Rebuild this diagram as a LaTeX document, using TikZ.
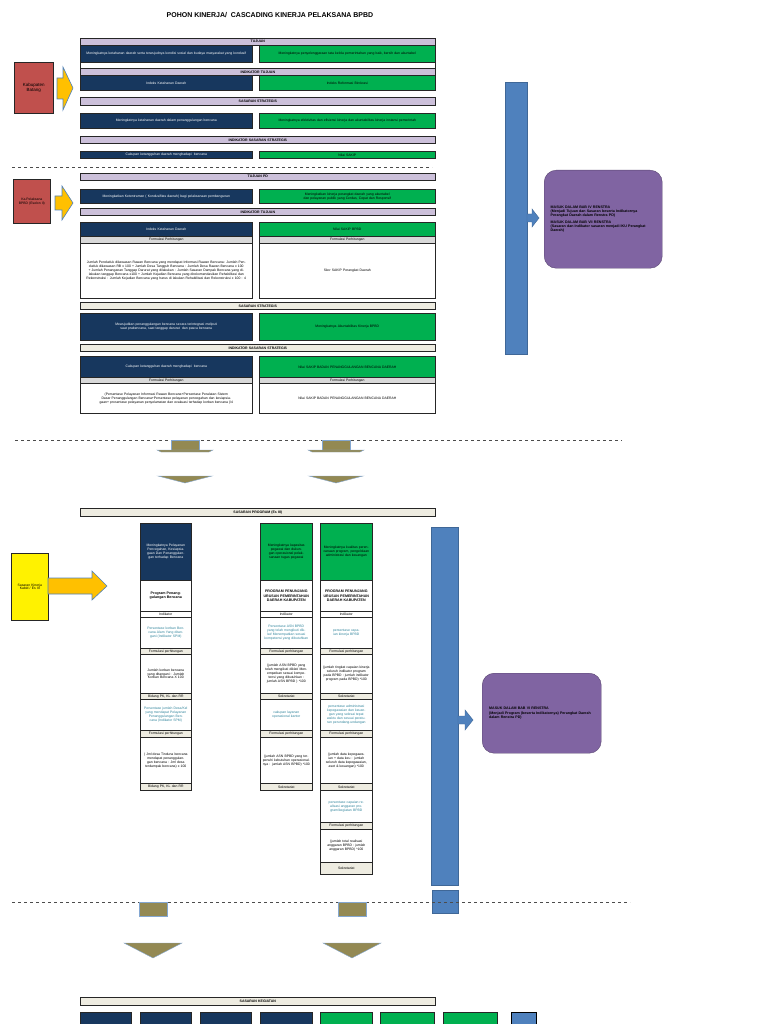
\documentclass[tikz,border=0pt]{standalone}
\usepackage{fontspec}
\setmainfont{Liberation Sans}
\usetikzlibrary{shapes.arrows}
\definecolor{cblue}{HTML}{17375E}
\definecolor{cgreen}{HTML}{00B050}
\definecolor{clav}{HTML}{CCC0DA}
\definecolor{ccream}{HTML}{EEECE1}
\definecolor{cgray}{HTML}{D9D9D9}
\definecolor{cred}{HTML}{C0504D}
\definecolor{cyel}{HTML}{FFC000}
\definecolor{colive}{HTML}{938953}
\definecolor{csteel}{HTML}{4F81BD}
\definecolor{cpurp}{HTML}{8064A2}
\definecolor{ccyan}{HTML}{31859C}
\newcommand\R[7]{\node[#1,anchor=north west,minimum width={(#5-#3)*1pt},minimum height={(#6-#4)*1pt},text width={(#5-#3-4)*1pt},align=center,inner sep=1pt] (#2) at (#3,#4) {#7};}
\begin{document}
\begin{tikzpicture}[x=1pt,y=-1pt,
  every node/.style={font=\fontsize{3.4}{3.9}\selectfont},
  base/.style={draw=black!85,line width=0.6pt},
  hdr/.style={base,fill=clav,font=\fontsize{3.5}{3.8}\selectfont\bfseries},
  hdrc/.style={base,fill=ccream,font=\fontsize{3.5}{3.8}\selectfont\bfseries},
  blu/.style={base,fill=cblue,text=white},
  grn/.style={base,fill=cgreen,text=black},
  wht/.style={base,fill=white},
  gry/.style={base,fill=cgray},
  crm/.style={base,fill=ccream},
  cyn/.style={base,fill=white,text=ccyan},
  lbl/.style={base,font=\fontsize{4.5}{5}\selectfont},
  ttl/.style={base,fill=white,font=\fontsize{3.6}{4.1}\selectfont\bfseries},
  dashline/.style={dashed,draw=black!70,line width=0.5pt},
  yarrow/.style={fill=cyel,draw=csteel,line width=0.6pt},
  oliv/.style={fill=colive,draw=csteel!70,line width=0.4pt},
  purp/.style={fill=cpurp,draw=cpurp!70!black,rounded corners=12pt,text=black,align=left,font=\fontsize{3.6}{4.1}\selectfont\bfseries}]
\useasboundingbox (0,0) rectangle (768,1024);
\node[font=\fontsize{7}{8}\selectfont\bfseries] (title) at (270,15) {POHON KINERJA/\ \ CASCADING KINERJA PELAKSANA BPBD};
% Section 1
\draw[base] (80,38) rectangle (435,68);
\R{hdr}{h1}{80}{38}{435}{45}{TUJUAN}
\R{blu}{t1}{80}{45}{252}{62}{Meningkatnya ketahanan daerah serta terwujudnya kondisi sosial dan budaya masyarakat yang kondusif}
\R{grn}{t2}{259}{45}{435}{62}{Meningkatnya penyelenggaraan tata kelola pemerintahan yang baik, bersih dan akuntabel}
\R{hdr}{h2}{80}{68}{435}{75}{INDIKATOR TUJUAN}
\R{blu}{it1}{80}{75}{252}{90}{Indeks Ketahanan Daerah}
\R{grn}{it2}{259}{75}{435}{90}{Indeks Reformasi Birokrasi}
\R{hdr}{h3}{80}{97}{435}{105}{SASARAN STRATEGIS}
\R{blu}{s1}{80}{113}{252}{128}{Meningkatnya ketahanan daerah dalam penanggulangan bencana}
\R{grn}{s2}{259}{113}{435}{128}{Meningkatnya efektivitas dan efisiensi kinerja dan akuntabilitas kinerja instansi pemerintah}
\R{hdr}{h4}{80}{136}{435}{143}{INDIKATOR SASARAN STRATEGIS}
\R{blu}{is1}{80}{151}{252}{158}{Cakupan ketangguhan daerah menghadapi\ \ bencana}
\R{grn}{is2}{259}{151}{435}{158}{Nilai SAKIP}
\R{lbl,fill=cred}{kab}{14}{62}{53}{113}{Kabupaten Batang}
\draw[yarrow] (57,78) -- (63,78) -- (63,67) -- (73,88) -- (63,110) -- (63,99) -- (57,99) -- cycle;
\draw[dashline] (12,167) -- (432,167);
% Section 2
\R{hdr}{h5}{80}{173}{435}{180}{TUJUAN PD}
\R{blu}{tp1}{80}{189}{252}{203}{Meningkatkan Ketentraman ( Kondusifitas daerah) bagi pelaksanaan pembangunan}
\R{grn}{tp2}{259}{189}{435}{203}{Meningkatkan kinerja perangkat daerah yang akuntabel dan pelayanan publik yang Cerdas, Cepat dan Responsif}
\R{hdr}{h6}{80}{208}{435}{215}{INDIKATOR TUJUAN}
\R{blu}{itp1}{80}{222}{252}{236}{Indeks Ketahanan Daerah}
\R{grn}{itp2}{259}{222}{435}{236}{Nilai SAKIP BPBD}
\R{gry}{f1}{80}{236}{252}{243}{Formulasi Perhitungan}
\R{gry}{f2}{259}{236}{435}{243}{Formulasi Perhitungan}
\R{wht}{fw1}{80}{243}{252}{298}{Jumlah Penduduk dikawasan Rawan Bencana yang mendapat Informasi Rawan Bencana: Jumlah Penduduk dikawasan RB x 100 + Jumlah Desa Tangguh Bencana : Jumlah Desa Rawan Bencana x 100 + Jumlah Penanganan Tanggap Darurat yang dilakukan : Jumlah Sasaran Dampak Bencana yang dilakukan tanggap Bencana x100 + Jumlah Kejadian Bencana yang direkomendasikan Rehabilitasi dan Rekonstruksi : Jumlah Kejadian Bencana yang harus di lakukan Rehabilitasi dan Rekonstruksi x 100 : 4}
\R{wht}{fw2}{259}{243}{435}{298}{Skor SAKIP Perangkat Daerah}
\R{hdrc}{h7}{80}{302}{435}{309}{SASARAN STRATEGIS}
\R{blu}{sp1}{80}{313}{252}{340}{Mewujudkan penanggulangan bencana secara terintegrasi meliputi saat prabencana, saat tanggap darurat\ \ dan pasca bencana}
\R{grn}{sp2}{259}{313}{435}{340}{Meningkatnya Akuntabilitas Kinerja BPBD}
\R{hdrc}{h8}{80}{344}{435}{351}{INDIKATOR SASARAN STRATEGIS}
\R{blu}{isp1}{80}{356}{252}{377}{Cakupan ketangguhan daerah menghadapi\ \ bencana}
\R{grn}{isp2}{259}{356}{435}{377}{Nilai SAKIP BADAN PENANGGULANGAN BENCANA DAERAH}
\R{gry}{f3}{80}{377}{252}{383}{Formulasi Perhitungan}
\R{gry}{f4}{259}{377}{435}{383}{Formulasi Perhitungan}
\R{wht}{fw3}{80}{383}{252}{413}{(Persentase Pelayanan Informasi Rawan Bencana+Persentase Peralatan Sistem Dasar Penanggulangan Bencana+Persentase pelayanan pencegahan dan kesiapsiagaan+ prosentase pelayanan penyelamatan dan evakuasi terhadap korban bencana )/4}
\R{wht}{fw4}{259}{383}{435}{413}{Nilai SAKIP BADAN PENANGGULANGAN BENCANA DAERAH}
\R{base,fill=cred}{kapel}{13}{179}{50}{223}{Ka.Pelaksana BPBD (Eselon II)}
\draw[yarrow] (55,196) -- (62,196) -- (62,186) -- (73,203) -- (62,220) -- (62,210) -- (55,210) -- cycle;
\draw[fill=csteel,draw=csteel!80!black] (505,82) rectangle (527,354);
\draw[fill=csteel,draw=csteel!80!black] (527,214) -- (532,214) -- (532,209) -- (539,218) -- (532,227) -- (532,222) -- (527,222) -- cycle;
\node[purp,anchor=north west,minimum width=118pt,minimum height=98pt,text width=105pt] (p1) at (544,170) {MASUK DALAM BAB IV RENSTRA\\(Menjadi Tujuan dan Sasaran beserta Indikatornya Perangkat Daerah dalam Renstra PD)\\[3pt]MASUK DALAM BAB VII RENSTRA\\(Sasaran dan Indikator sasaran menjadi IKU Perangkat Daerah)};
\draw[dashline] (15,440) -- (622,440);
% olive arrows 1
\foreach \cx in {185,336}{
  \draw[oliv] (\cx-14,440) rectangle (\cx+14,450);
  \draw[oliv] (\cx-28,450) -- (\cx+28,450) -- (\cx+24,452) -- (\cx-24,452) -- cycle;
  \draw[oliv] (\cx-27,476) -- (\cx+27,476) -- (\cx,483) -- cycle;
}
\R{hdrc}{h9}{80}{508}{435}{516}{SASARAN PROGRAM (Es III)}
\R{base,fill=yellow}{kabid}{11}{553}{48}{620}{Sasaran Kinerja Kabid / Es III}
\draw[yarrow,fill=cyel] (48,578) -- (92,578) -- (92,571) -- (107,586) -- (92,600) -- (92,594) -- (48,594) -- cycle;
% column 1
\R{blu}{c1a}{140}{523}{191}{580}{Meningkatnya Pelayanan Pencegahan, Kesiapsiagaan Dan Penanggulangan terhadap Bencana}
\R{ttl}{c1b}{140}{580}{191}{611}{Program Penanggulangan Bencana}
\R{wht}{c1c}{140}{611}{191}{617}{Indikator}
\R{cyn}{c1d}{140}{617}{191}{648}{Persentase korban Bencana Alam Yang ditangani (Indikator SPM)}
\R{crm}{c1e}{140}{648}{191}{654}{Formulasi perhitungan}
\R{wht}{c1f}{140}{654}{191}{693}{Jumlah korban bencana yang ditangani : Jumlah Korban Bencana X 100}
\R{crm}{c1g}{140}{693}{191}{699}{Bidang PK, KL dan RR}
\R{cyn}{c1h}{140}{699}{191}{730}{Persentase jumlah Desa/Kel yang mendapat Pelayanan Penanggulangan Bencana (Indikator SPM)}
\R{crm}{c1i}{140}{730}{191}{737}{Formulasi perhitungan}
\R{wht}{c1j}{140}{737}{191}{783}{( Jml desa Tinduna bencana mendapat penanggulangan bencana : Jml desa terdampak bencana) x 100}
\R{crm}{c1k}{140}{783}{191}{790}{Bidang PK, KL dan RR}
% column 2
\R{grn}{c2a}{260}{523}{312}{580}{Meningkatnya kapasitas pegawai dan dukungan operasional pelaksanaan tugas pegawai}
\R{ttl}{c2b}{260}{580}{312}{611}{PROGRAM PENUNJANG URUSAN PEMERINTAHAN DAERAH KABUPATEN}
\R{wht}{c2c}{260}{611}{312}{617}{Indikator}
\R{cyn}{c2d}{260}{617}{312}{648}{Persentase ASN BPBD yang telah mengikuti diklat/ Menempatkan sesuai kompetensi yang dibutuhkan}
\R{crm}{c2e}{260}{648}{312}{654}{Formulasi perhitungan}
\R{wht}{c2f}{260}{654}{312}{693}{(jumlah ASN BPBD yang telah mengikuti diklat/ Menempatkan sesuai kompetensi yang dibutuhkan : jumlah ASN BPBD ) *100}
\R{crm}{c2g}{260}{693}{312}{699}{Sekretariat}
\R{cyn}{c2h}{260}{699}{312}{730}{cakupan layanan operasional kantor}
\R{crm}{c2i}{260}{730}{312}{737}{Formulasi perhitungan}
\R{wht}{c2j}{260}{737}{312}{783}{(jumlah ASN BPBD yang terpenuhi kebutuhan operasionalnya : jumlah ASN BPBD) *100}
\R{crm}{c2k}{260}{783}{312}{790}{Sekretariat}
% column 3
\R{grn}{c3a}{320}{523}{372}{580}{Meningkatnya kualitas perencanaan program, pengelolaan administrasi dan keuangan}
\R{ttl}{c3b}{320}{580}{372}{611}{PROGRAM PENUNJANG URUSAN PEMERINTAHAN DAERAH KABUPATEN}
\R{wht}{c3c}{320}{611}{372}{617}{Indikator}
\R{cyn}{c3d}{320}{617}{372}{648}{persentase capaian kinerja BPBD}
\R{crm}{c3e}{320}{648}{372}{654}{Formulasi perhitungan}
\R{wht}{c3f}{320}{654}{372}{693}{(jumlah tingkat capaian kinerja seluruh indikator program pada BPBD : jumlah indikator program pada BPBD) *100}
\R{crm}{c3g}{320}{693}{372}{699}{Sekretariat}
\R{cyn}{c3h}{320}{699}{372}{730}{persentase administrasi kepegawaian dan keuangan yang selesai tepat waktu dan sesuai peraturan perundang-undangan}
\R{crm}{c3i}{320}{730}{372}{737}{Formulasi perhitungan}
\R{wht}{c3j}{320}{737}{372}{783}{(jumlah data kepegawaian + data keu : jumlah seluruh data kepegawaian, aset \& keuangan) *100}
\R{crm}{c3k}{320}{783}{372}{790}{Sekretariat}
\R{cyn}{c3l}{320}{790}{372}{822}{persentase capaian realisasi anggaran program/kegiatan BPBD}
\R{crm}{c3m}{320}{822}{372}{829}{Formulasi perhitungan}
\R{wht}{c3n}{320}{829}{372}{862}{(jumlah total realisasi anggaran BPBD : jumlah anggaran BPBD) *100}
\R{crm}{c3o}{320}{862}{372}{874}{Sekretariat}
% right bar 2
\draw[fill=csteel,draw=csteel!80!black] (431,527) rectangle (458,885);
\draw[fill=csteel,draw=csteel!80!black] (458,716) -- (465,716) -- (465,710) -- (473,720) -- (465,730) -- (465,724) -- (458,724) -- cycle;
\node[purp,anchor=north west,minimum width=119pt,minimum height=80pt,text width=105pt] (p2) at (482,673) {MASUK DALAM BAB VI RENSTRA\\(Menjadi Program (beserta Indikatornya) Perangkat Daerah dalam Renstra PD)};
\draw[fill=csteel,draw=csteel!80!black] (432,890) rectangle (458,913);
\draw[dashline] (12,902) -- (630,902);
\foreach \cx in {153,352}{
  \draw[oliv] (\cx-14,902) rectangle (\cx+14,916);
  \draw[oliv] (\cx-29,943) -- (\cx+29,943) -- (\cx,958) -- cycle;
}
\R{hdrc}{h10}{80}{997}{435}{1005}{SASARAN KEGIATAN}
\draw[base,fill=cblue] (80,1012) rectangle (131,1026);
\draw[base,fill=cblue] (140,1012) rectangle (191,1026);
\draw[base,fill=cblue] (200,1012) rectangle (251,1026);
\draw[base,fill=cblue] (260,1012) rectangle (312,1026);
\draw[base,fill=cgreen] (320,1012) rectangle (372,1026);
\draw[base,fill=cgreen] (380,1012) rectangle (434,1026);
\draw[base,fill=cgreen] (443,1012) rectangle (497,1026);
\draw[fill=csteel] (511,1012) rectangle (536,1026);
\end{tikzpicture}
\end{document}
